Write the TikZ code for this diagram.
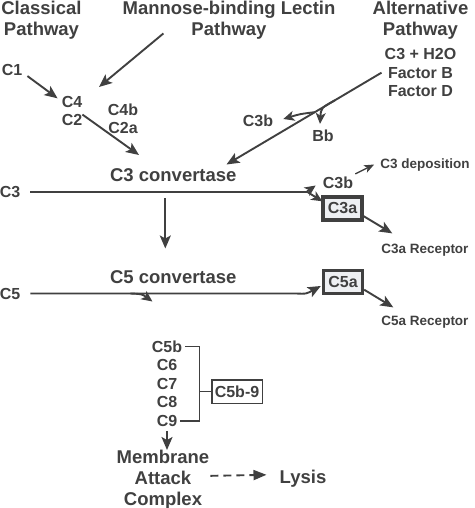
\documentclass[tikz,border=0pt]{standalone}
\usepackage{fontspec}
\setmainfont{Liberation Sans}
\usetikzlibrary{arrows.meta,positioning}
\definecolor{ink}{HTML}{404040}
\definecolor{boxfill}{HTML}{EEF0F3}

\begin{document}
\begin{tikzpicture}[x=1pt, y=-1pt]
\tikzstyle{heading}=[font=\bfseries\fontsize{18.5}{21}\selectfont, text=ink, align=center, inner sep=0pt]
\tikzstyle{lbl}=[font=\bfseries\fontsize{16}{18.3}\selectfont, text=ink, align=center, inner sep=0pt]
\tikzstyle{note}=[font=\bfseries\fontsize{13.5}{16}\selectfont, text=ink, inner sep=0pt]
\tikzstyle{connect}=[-{Stealth[length=13pt, width=11pt, inset=3pt]}, line width=1.9pt, draw=ink]
\tikzstyle{fork}=[-{Stealth[length=11pt, width=10pt, inset=3pt]}, line width=1.9pt, draw=ink]
\tikzstyle{thinarrow}=[-{Stealth[length=10pt, width=8pt, inset=2.5pt]}, line width=1.3pt, draw=ink]
\tikzstyle{plain}=[line width=1.9pt, draw=ink]
\tikzstyle{boxed}=[rectangle, draw=ink, line width=3.4pt, fill=boxfill, minimum width=39pt, minimum height=23pt, inner sep=0pt, font=\bfseries\fontsize{16}{18}\selectfont, text=ink]
\tikzstyle{thinbox}=[rectangle, draw=ink, line width=1.5pt, fill=white, minimum width=50.5pt, minimum height=23.5pt, inner sep=0pt, font=\bfseries\fontsize{16}{18}\selectfont, text=ink]

\useasboundingbox (0,0) rectangle (474,508);

% 1. Pathways
%%%%%%%%%%%%%
\node[heading, anchor=north] (classical) at (41.5,0.8) {Classical\\Pathway};
\node[heading, anchor=north] (mbl) at (229,0.8) {Mannose-binding Lectin\\Pathway};
\node[heading, anchor=north] (altpw) at (420.5,0.8) {Alternative\\Pathway};
\node[lbl, anchor=north] (alt) at (420.5,48.5) {C3 + H2O\\Factor B\\Factor D};

% 2. Nodes
%%%%%%%%%%
\node[lbl, anchor=base] (c1) at (12,75.7) {C1};
\node[lbl, anchor=base] (c4) at (72,107.7) {C4};
\node[lbl] (c2) [below=6.5pt of c4] {C2};
\node[lbl, anchor=base] (c4b) at (123,115.7) {C4b};
\node[lbl] (c2a) [below=6pt of c4b] {C2a};
\node[lbl, anchor=base] (c3bA) at (258,126.7) {C3b};
\node[lbl, anchor=base] (bb) at (323,141.7) {Bb};

\node[heading, anchor=base] (c3conv) at (173.3,181.6) {C3 convertase};
\node[lbl, anchor=base] (c3) at (10,197.4) {C3};
\node[lbl, anchor=base] (c3bB) at (338,188.7) {C3b};
\node[note, anchor=base] (dep) at (425,168) {C3 deposition};
\node[boxed] (c3a) at (342.5,208.5) {C3a};
\node[note, anchor=base] (c3arec) at (425,253) {C3a Receptor};

\node[heading, anchor=base] (c5conv) at (173.3,283.6) {C5 convertase};
\node[lbl, anchor=base] (c5) at (10,299) {C5};
\node[boxed] (c5a) at (343,282) {C5a};
\node[note, anchor=base] (c5arec) at (425,325) {C5a Receptor};

\node[lbl, anchor=base] (c5b) at (167,352.4) {C5b};
\node[lbl] (c6) [below=6.8pt of c5b] {C6};
\node[lbl] (c7) [below=6.8pt of c6] {C7};
\node[lbl] (c8) [below=6.8pt of c7] {C8};
\node[lbl] (c9) [below=6.8pt of c8] {C9};
\node[thinbox] (c5b9) at (237,391.5) {C5b-9};

\node[heading, anchor=north] (mac) at (163,450) {Membrane\\Attack\\Complex};
\node[heading, anchor=base] (lysis) at (303,483.6) {Lysis};

% 3. Arrows
%%%%%%%%%%%
\coordinate (cvin1) at (139,155);
\coordinate (cvin2) at (226.5,164.5);
\draw[connect] ([xshift=5pt]c1.south east) -- ([shift={(-4,2)}]c4.north west);
\draw[connect] ([xshift=41pt, yshift=6pt]mbl.south west) -- (99,87);
\draw[connect] (c2.north east) -- (cvin1);
\draw[connect] ([xshift=-3pt]alt.west) -- coordinate[pos=0.3] (bbfork) coordinate[pos=0.43] (c3bfork) (cvin2);
\draw[fork] (c3bfork) .. controls (300,114) .. ([shift={(10,-2)}]c3bA.east);
\draw[fork] (bbfork) .. controls (321,108) .. ([shift={(-3,-6)}]bb.north);

% C3 cleavage
\path (c3.east) ++(287,0) coordinate (c3fork);
\draw[plain] ([xshift=10pt]c3.east) -- (c3fork);
\draw[fork] (c3fork) .. controls (307,191.5) .. ([shift={(-7,2.5)}]c3bB.west);
\draw[fork] (c3fork) .. controls (309,193) .. ([shift={(1,6)}]c3a.north west);
\draw[thinarrow] ([shift={(2,-3)}]c3bB.north east) -- ([xshift=-6pt]dep.west);
\draw[connect] (c3a.-20) -- ([shift={(11,-10)}]c3arec.north west);

\draw[connect] ([shift={(-8,16)}]c3conv.south) -- ([shift={(-8,-22)}]c5conv.north);

% C5 cleavage
\path (c5.east) ++(276,0) coordinate (c5fork);
\path (c5.east) ++(110,0) coordinate (c5bfork);
\draw[connect] ([xshift=10pt]c5.east) -- (c5fork) .. controls (306,294) .. ([shift={(-1,4)}]c5a.west);
\draw[fork] (c5bfork) .. controls (142,294) .. ++(22,8);
\draw[connect] (c5a.-20) -- ([shift={(12,-8)}]c5arec.north west);

% 4. Terminal complex
%%%%%%%%%%%%%%%%%%%%%
\draw[line width=1.5pt, draw=ink] ([xshift=3pt]c5b.east) -- ++(14,0) coordinate (brk) |- ([xshift=3pt]c9.east);
\draw[line width=1.5pt, draw=ink] (c5b9.west) -- (c5b9.west -| brk);
\draw[connect] ([yshift=-4pt]c9.south) -- (c9.south |- mac.north);
\draw[connect, -{Stealth[length=13pt, width=10pt, inset=0pt]}, dash pattern=on 8pt off 5pt] ([shift={(1,-4)}]mac.east) -- ([shift={(-13,-4)}]lysis.west);

\end{tikzpicture}
\end{document}
